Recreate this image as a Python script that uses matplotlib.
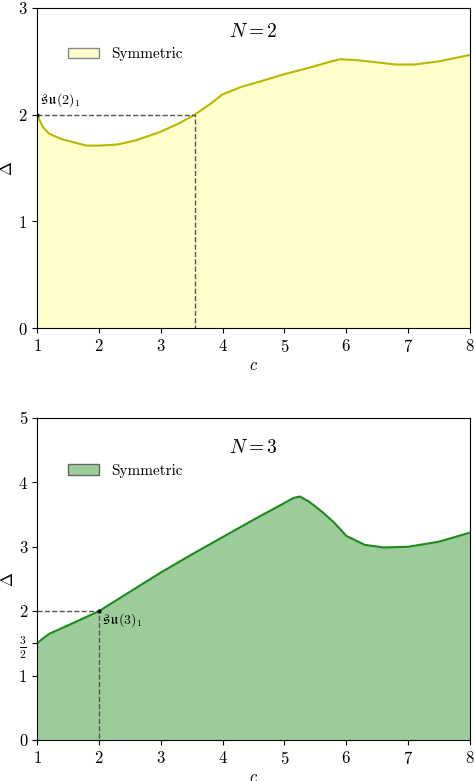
import matplotlib
matplotlib.use("Agg")
import matplotlib.pyplot as plt
from matplotlib.patches import Patch

plt.rcParams['font.family'] = ['cmr10', 'DejaVu Serif']
plt.rcParams['mathtext.fontset'] = 'cm'
plt.rcParams['axes.formatter.use_mathtext'] = True
plt.rcParams['font.size'] = 12

c1 = [1.0, 1.1, 1.2, 1.4, 1.6, 1.8, 2.0, 2.3, 2.6, 3.0, 3.3, 3.55, 3.8, 4.0, 4.3, 4.6, 5.0, 5.4, 5.7, 5.9, 6.2, 6.5, 6.8, 7.1, 7.5, 8.0]
d1 = [2.0, 1.88, 1.82, 1.77, 1.74, 1.71, 1.71, 1.72, 1.76, 1.84, 1.92, 2.0, 2.1, 2.19, 2.26, 2.31, 2.38, 2.44, 2.49, 2.52, 2.51, 2.49, 2.47, 2.47, 2.5, 2.56]
c2 = [1.0, 1.1, 1.2, 1.5, 2.0, 2.5, 3.0, 3.5, 4.0, 4.5, 5.0, 5.15, 5.25, 5.4, 5.6, 5.8, 6.0, 6.3, 6.6, 7.0, 7.5, 8.0]
d2 = [1.5, 1.58, 1.65, 1.78, 2.0, 2.3, 2.6, 2.88, 3.15, 3.42, 3.68, 3.76, 3.78, 3.7, 3.55, 3.38, 3.17, 3.03, 2.99, 3.0, 3.08, 3.22]

fig = plt.figure(figsize=(4.74, 7.81), dpi=100)
ax1 = fig.add_axes([37/474, 1-328/781, 433/474, 320/781])
ax2 = fig.add_axes([37/474, 1-740/781, 433/474, 322/781])

ax1.fill_between(c1, d1, 0, color='#ffffcc', edgecolor='none')
ax1.plot(c1, d1, color='#b8b800', lw=1.5)
ax1.plot([1, 3.55, 3.55], [2, 2, 0], '--', color='#555555', lw=1)
ax1.plot([1], [2], 'k.', ms=4)
ax1.text(1.05, 2.1, r'$\mathfrak{su}(2)_1$', fontsize=10)
ax1.set_xlim(1, 8); ax1.set_ylim(0, 3)
ax1.set_yticks([0, 1, 2, 3])
ax1.set_xlabel(r'$c$', labelpad=2); ax1.set_ylabel(r'$\Delta$', labelpad=2)
ax1.text(4.5, 2.73, r'$N=2$', fontsize=14, ha='center')
ax1.legend(handles=[Patch(facecolor='#ffffcc', edgecolor='#888888', label='Symmetric')],
           loc='upper left', bbox_to_anchor=(0.04, 0.92), frameon=False, fontsize=11)

ax2.fill_between(c2, d2, 0, color='#9ccc9a', edgecolor='none')
ax2.plot(c2, d2, color='#1e8a1e', lw=1.5)
ax2.plot([1, 2, 2], [2, 2, 0], '--', color='#555555', lw=1)
ax2.plot([2], [2], 'k.', ms=4)
ax2.text(2.05, 1.8, r'$\mathfrak{su}(3)_1$', fontsize=10)
ax2.set_xlim(1, 8); ax2.set_ylim(0, 5)
ax2.set_yticks([0, 1, 1.5, 2, 3, 4, 5])
ax2.set_yticklabels(['0', '1', r'$\frac{3}{2}$', '2', '3', '4', '5'])
ax2.set_xlabel(r'$c$', labelpad=2); ax2.set_ylabel(r'$\Delta$', labelpad=2)
ax2.text(4.5, 4.45, r'$N=3$', fontsize=14, ha='center')
ax2.legend(handles=[Patch(facecolor='#9ccc9a', edgecolor='#666666', label='Symmetric')],
           loc='upper left', bbox_to_anchor=(0.04, 0.90), frameon=False, fontsize=11)

fig.savefig('out.png', dpi=100)
